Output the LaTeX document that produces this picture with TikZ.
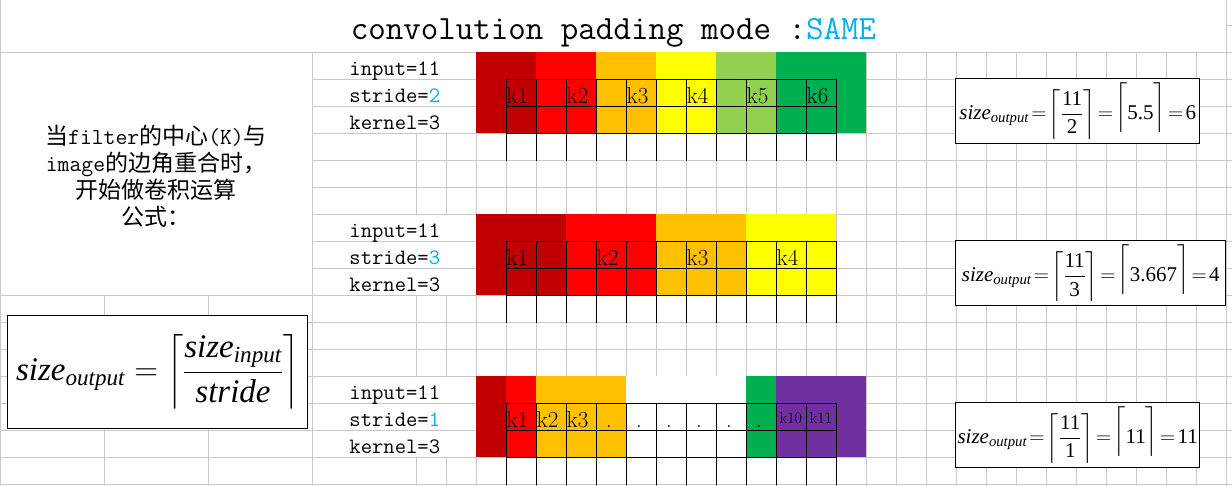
\RequirePackage{fix-cm}
\documentclass[tikz,border=0pt]{standalone}
\usepackage{amsmath}
\usepackage{fontspec}
\newfontfamily\cjk{Noto Sans CJK SC}
\newfontfamily\timesfont{Liberation Serif}
\definecolor{gridgray}{RGB}{200,200,200}
\definecolor{cDarkRed}{HTML}{C00000}
\definecolor{cRed}{HTML}{FF0000}
\definecolor{cOrange}{HTML}{FFC000}
\definecolor{cYellow}{HTML}{FFFF00}
\definecolor{cLightGreen}{HTML}{92D050}
\definecolor{cGreen}{HTML}{00B050}
\definecolor{cPurple}{HTML}{7030A0}
\definecolor{cBlue}{HTML}{00B0F0}
\newcommand{\tv}[1]{\text{\timesfont\itshape #1}}
\newcommand{\tn}[1]{\text{\timesfont #1}}
\newcommand{\hceil}[1]{\mathopen{\raisebox{6.5pt}{$\biggl\lceil$}}#1\mathclose{\raisebox{6.5pt}{$\biggr\rceil$}}}

\begin{document}
\begin{tikzpicture}
[
x=1pt,y=-1pt,
gridline/.style={draw=gridgray,line width=1pt},
boxline/.style={draw=black,line width=1pt,line cap=rect},
lblcell/.style={anchor=base,inner sep=0pt,font=\ttfamily\fontsize{22}{26}\selectfont},
kcell/.style={anchor=base west,inner sep=0pt,font=\fontsize{23}{26}\selectfont},
dotcell/.style={anchor=base,inner sep=0pt,font=\fontsize{23}{26}\selectfont},
eqbox/.style={draw=black,line width=1pt,fill=white,inner sep=0pt},
]
\useasboundingbox (0,0) rectangle (1232,486);

%Draw the sheet grid
\foreach \k in {0,9,10,...,16} \draw[gridline] (0,{52.3+27*\k}) -- (1232,{52.3+27*\k});
\foreach \k in {1,...,8} \draw[gridline] (312,{52.3+27*\k}) -- (1232,{52.3+27*\k});
\draw[gridline] (1226,25.3) -- (1232,25.3);
\draw[gridline] (0.5,0) -- (0.5,486);
\draw[gridline] (1226,0) -- (1226,486);
\foreach \x in {104,208} \draw[gridline] (\x,295.3) -- (\x,486);
\draw[gridline] (312,52.3) -- (312,486);
\foreach \x in {416,446}
  \foreach \ya/\yb in {133.3/214.3,295.3/376.3,457.3/486} \draw[gridline] (\x,\ya) -- (\x,\yb);
\foreach \x in {476,506,...,1196} \draw[gridline] (\x,52.3) -- (\x,486);

%Colour the padded inputs
\foreach \xa/\xb/\col in {476/536/cDarkRed,536/596/cRed,596/656/cOrange,656/716/cYellow,716/776/cLightGreen,776/866/cGreen}
  \fill[\col] (\xa,52.3) rectangle (\xb,133.3);
\foreach \xa/\xb/\col in {476/566/cDarkRed,566/656/cRed,656/746/cOrange,746/836/cYellow}
  \fill[\col] (\xa,214.3) rectangle (\xb,295.3);
\foreach \xa/\xb/\col in {476/506/cDarkRed,506/536/cRed,536/626/cOrange,626/746/white,746/776/cGreen,776/866/cPurple}
  \fill[\col] (\xa,376.3) rectangle (\xb,457.3);

%Draw the image cells
\foreach \y in {52.3,214.3,376.3} {
  \foreach \i in {1,2,3} \draw[boxline] (506,{\y+27*\i}) -- (836,{\y+27*\i});
  \foreach \x in {506,536,...,836} \draw[boxline] (\x,{\y+27}) -- (\x,{\y+108});
}

%Place the nodes
\node[font=\ttfamily\fontsize{34}{36}\selectfont,anchor=base] (title) at (613.5,40) {convolution padding mode :\textcolor{cBlue}{SAME}};
\foreach \y/\s/\n in {52.3/2/1,214.3/3/2,376.3/1/3} {
  \node[lblcell] (in\n) at (394.8,{\y+23.5}) {input=11};
  \node[lblcell] (st\n) at (394.8,{\y+50.5}) {stride=\textcolor{cBlue}{\s}};
  \node[lblcell] (ke\n) at (394.8,{\y+77.5}) {kernel=3};
}
\foreach \i in {1,...,6} \node[kcell] (a\i) at ({506.5+60*(\i-1)},103.3) {k\i};
\foreach \i in {1,...,4} \node[kcell] (b\i) at ({506.5+90*(\i-1)},265.3) {k\i};
\foreach \i in {1,2,3} \node[kcell] (c\i) at ({506.5+30*(\i-1)},427.3) {k\i};
\foreach \x [count=\j] in {596,626,...,746} \node[dotcell] (d\j) at ({\x+13},427.5) {.};
\node[kcell,font=\fontsize{16}{18}\selectfont] (c10) at (779.3,423.5) {k10};
\node[kcell,font=\fontsize{16}{18}\selectfont] (c11) at (809.5,423.5) {k11};

\node[font=\cjk\fontsize{23}{27}\selectfont,align=center] (note) at (156,176)
  {当{\ttfamily filter}的中心{\ttfamily (K)}与\\{\ttfamily image}的边角重合时，\\开始做卷积运算\\公式：};

%Formula boxes
\node[eqbox,minimum width=300.4pt,minimum height=113.4pt,font=\fontsize{33}{36}\selectfont] (eqmain) at (157.5,372)
  {$\tv{size}_{\tv{output}}=\left\lceil\dfrac{\tv{size}_{\tv{input}}}{\tv{stride}}\right\rceil$};
\node[eqbox,minimum width=244pt,minimum height=65pt,font=\fontsize{21}{24}\selectfont] (eq1) at (1077.7,110.8)
  {$\thickmuskip=2mu\tv{size}_{\tv{output}}=\left\lceil\dfrac{\tn{11}}{\tn{2}}\right\rceil=\hceil{\tn{5.5}}=\tn{6}$};
\node[eqbox,minimum width=270pt,minimum height=64.6pt,font=\fontsize{21}{24}\selectfont] (eq2) at (1090.7,273)
  {$\thickmuskip=2mu\tv{size}_{\tv{output}}=\left\lceil\dfrac{\tn{11}}{\tn{3}}\right\rceil=\hceil{\tn{3.667}}=\tn{4}$};
\node[eqbox,minimum width=244pt,minimum height=65pt,font=\fontsize{21}{24}\selectfont] (eq3) at (1077.7,434.8)
  {$\thickmuskip=2mu\tv{size}_{\tv{output}}=\left\lceil\dfrac{\tn{11}}{\tn{1}}\right\rceil=\hceil{\tn{11}}=\tn{11}$};
\end{tikzpicture}
\end{document}
